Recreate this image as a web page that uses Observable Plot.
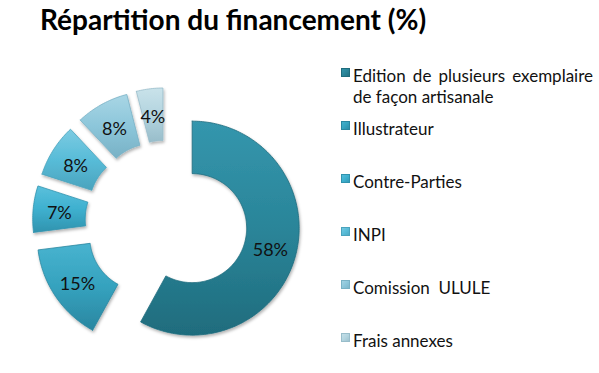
<!DOCTYPE html>
<html><head><meta charset="utf-8">
<script src="https://cdn.jsdelivr.net/npm/d3@7"></script>
<script src="https://cdn.jsdelivr.net/npm/@observablehq/plot@0.6"></script>
<style>
html,body{margin:0;padding:0;background:#fff;}
#wrap{position:relative;width:599px;height:373px;overflow:hidden;font-family:Lato,sans-serif;color:#111;}
#title{position:absolute;left:40px;top:1px;height:50px;font-weight:bold;font-size:28px;line-height:36px;white-space:nowrap;color:#000;}
#chart{position:absolute;left:0;top:50px;}
.item{position:absolute;left:341px;font-size:17px;line-height:21px;}
.sq{position:absolute;left:0;width:9px;height:9px;}
.txt{position:absolute;left:12px;width:240px;text-align:justify;white-space:pre-wrap;}
</style></head><body>
<div id="wrap"><div id="title">Répartition du financement (%)</div><div id="chart"></div><div id="legend"></div></div>
<script>
// ---- data ----
const categories = ["Edition de plusieurs exemplaire de façon artisanale", "Illustrateur", "Contre-Parties", "INPI", "Comission  ULULE", "Frais annexes"];
const values = [58, 15, 7, 8, 8, 4];

// ---- styles ----
const colors = ["#2a8599", "#35a2be", "#3eb0cf", "#58bcd8", "#8cc6da", "#b3d4df"];
const lights = ["#3496ad", "#48b3cf", "#5ac0dc", "#7ccbe2", "#a9d6e5", "#c9e2ea"];
const darks  = ["#1f6c7d", "#2a86a0", "#3093ae", "#4aa3bd", "#78b1c5", "#98bdca"];

const topOffset = 50, W = 599, H = 373 - topOffset;
const cx = 165.8, cy = 221 - topOffset, R = 107, r = 54.5, explode = 26.7;

const data = categories.map((c, i) => ({category: c, value: values[i], i}));
const arcs = d3.pie().sort(null).value(d => d.value)(data);

function polar(c, rad, a) { return {x: c.x + rad * Math.sin(a), y: c.y - rad * Math.cos(a)}; }

const slices = arcs.map(a => {
  const mid = (a.startAngle + a.endAngle) / 2;
  const c = polar({x: cx, y: cy}, explode, mid);
  const n = Math.max(4, Math.ceil((a.endAngle - a.startAngle) / 0.02));
  const pts = [];
  for (let k = 0; k <= n; k++) pts.push(polar(c, R, a.startAngle + (a.endAngle - a.startAngle) * k / n));
  for (let k = n; k >= 0; k--) pts.push(polar(c, r, a.startAngle + (a.endAngle - a.startAngle) * k / n));
  pts.push(pts[0]);
  const lab = polar(c, (R + r) / 2, mid);
  return {i: a.data.i, pts, label: {x: lab.x, y: lab.y, text: `${a.data.value}%`}};
});

const marks = slices.map(s => Plot.line(s.pts, {x: "x", y: "y", curve: "linear",
  fill: `url(#grad${s.i})`, stroke: darks[s.i], strokeWidth: 0.8, strokeLinejoin: "round"}));
marks.push(Plot.text(slices.map(s => s.label), {x: "x", y: "y", text: "text", fontSize: 18, fill: "#111", dy: 2, fontFamily: "Lato"}));

const svg = Plot.plot({
  width: W, height: H, margin: 0,
  x: {type: "identity", axis: null},
  y: {type: "identity", axis: null},
  style: {background: "transparent", overflow: "visible"},
  marks
});

const defs = d3.select(svg).insert("defs", ":first-child");
colors.forEach((col, i) => {
  const g = defs.append("linearGradient").attr("id", `grad${i}`).attr("x1", 0).attr("y1", 0).attr("x2", 0).attr("y2", 1);
  g.append("stop").attr("offset", "0%").attr("stop-color", lights[i]);
  g.append("stop").attr("offset", "50%").attr("stop-color", col);
  g.append("stop").attr("offset", "100%").attr("stop-color", darks[i]);
});
const f = defs.append("filter").attr("id", "shadow").attr("x", "-20%").attr("y", "-20%").attr("width", "140%").attr("height", "140%");
f.append("feDropShadow").attr("dx", 1).attr("dy", 2).attr("stdDeviation", 1.5).attr("flood-color", "#000").attr("flood-opacity", 0.3);
d3.select(svg).selectAll("g[aria-label=line] path").attr("filter", "url(#shadow)");

document.getElementById("chart").appendChild(svg);

// ---- legend ----
const legend = document.getElementById("legend");
const baseline0 = 81.7, step = 53;
categories.forEach((c, i) => {
  const item = document.createElement("div");
  item.className = "item";
  item.style.top = (baseline0 + step * i - 17.1) + "px";
  const sq = document.createElement("div");
  sq.className = "sq";
  sq.style.top = (17.1 - 8.7 - 4.5) + "px";
  sq.style.background = `linear-gradient(135deg, ${lights[i]}, ${colors[i]} 50%, ${darks[i]})`;
  sq.style.boxShadow = `inset 0 0 0 1px ${darks[i]}`;
  const t = document.createElement("div");
  t.className = "txt";
  t.textContent = c;
  item.appendChild(sq); item.appendChild(t);
  legend.appendChild(item);
});
</script>
</body></html>
